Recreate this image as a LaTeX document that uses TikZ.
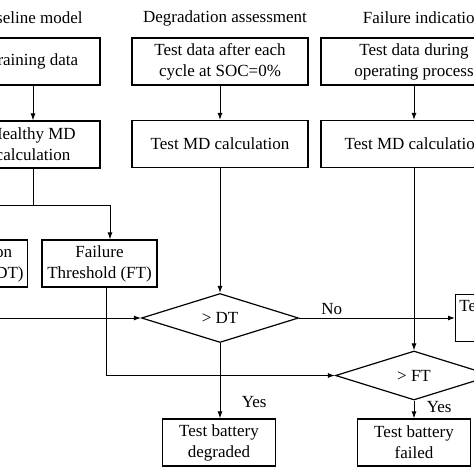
\documentclass[tikz,border=0pt]{standalone}
\usepackage{fontspec}
\setmainfont{Liberation Serif}
\usetikzlibrary{shapes.geometric,arrows.meta}
\tikzset{
  head-node/.style  = {draw=none, inner sep=0pt},
  proc-node/.style  = {rectangle, draw, line width=1.2pt, align=center,
                       minimum height=47pt, inner sep=2pt},
  cond-node/.style  = {diamond, draw, line width=1.2pt, aspect=3, inner sep=0pt,
                       minimum width=157pt, minimum height=49pt},
  flow/.style       = {-{Latex[length=7pt,width=5pt]}},
}

\begin{document}
\begin{tikzpicture}
  [
    x = 1pt, y = -1pt,
    line width = 1pt,
    every node/.style = {font=\fontsize{17}{21}\selectfont}
  ]
  \useasboundingbox (0,0) rectangle (474,474);
  \clip (0,0) rectangle (474,474);

  % column titles
  \node [head-node] (base-title) at (30,18)  {Baseline model};
  \node [head-node] (deg-title)  at (225,18) {Degradation assessment};
  \node [head-node] (fail-title) at (423,18) {Failure indication};

  % baseline model
  \node [proc-node, minimum width=134pt] (train)   at (33,61.5)  {Training data};
  \node [proc-node, minimum width=134pt] (healthy) at (33,144.5) {Healthy MD\\calculation};
  \node [proc-node, minimum width=115pt] (dt) at (-30,263.5)  {Degradation\\Threshold (DT)};
  \node [proc-node, minimum width=115pt] (ft) at (99.5,263.5) {Failure\\Threshold (FT)};
  \coordinate (split) at (33,205);

  % degradation assessment
  \node [proc-node, minimum width=176pt] (deg-data) at (220,61.5) {Test data after each\\cycle at SOC=0\%};
  \node [proc-node, minimum width=176pt] (deg-md)   at (220,144)  {Test MD calculation};
  \node [cond-node] (dt-check) at (220,318) {> DT};
  \node [proc-node, minimum width=113pt] (degraded) at (219,442.5) {Test battery\\degraded};
  \node [proc-node, minimum width=87pt, anchor=west, inner xsep=0pt] (normal) at (455,318)
        {Test battery\\healthy};

  % failure indication
  \node [proc-node, minimum width=186pt] (fail-data) at (414,61.5) {Test data during\\operating process};
  \node [proc-node, minimum width=186pt] (fail-md)   at (414,144)  {Test MD calculation};
  \node [cond-node] (ft-check) at (414,375.5) {> FT};
  \node [proc-node, minimum width=113pt] (failed) at (414,442.5) {Test battery\\failed};

  % connectors
  \draw [flow] (train) -- (healthy);
  \draw (healthy) -- (split);
  \draw [flow] (split) -| ([xshift=10.5pt]ft.north);
  \draw [flow] (split) -| (dt.north);
  \draw [flow] (dt.south) |- (dt-check.west);
  \draw [flow] ([xshift=6.5pt]ft.south) |- (ft-check.west);

  \draw [flow] (deg-data) -- (deg-md);
  \draw [flow] (deg-md) -- (dt-check);
  \draw [flow] (dt-check.south) -- node [pos=0.78, right, xshift=18pt] {Yes}
               (dt-check.south |- degraded.north);
  \draw [flow] (dt-check.east) -- node [pos=0.21, above] {No} (normal.west);

  \draw [flow] (fail-data) -- (fail-md);
  \draw [flow] (fail-md) -- (ft-check);
  \draw [flow] (ft-check) -- node [pos=0.35, right, xshift=9pt] {Yes} (failed);
\end{tikzpicture}
\end{document}
